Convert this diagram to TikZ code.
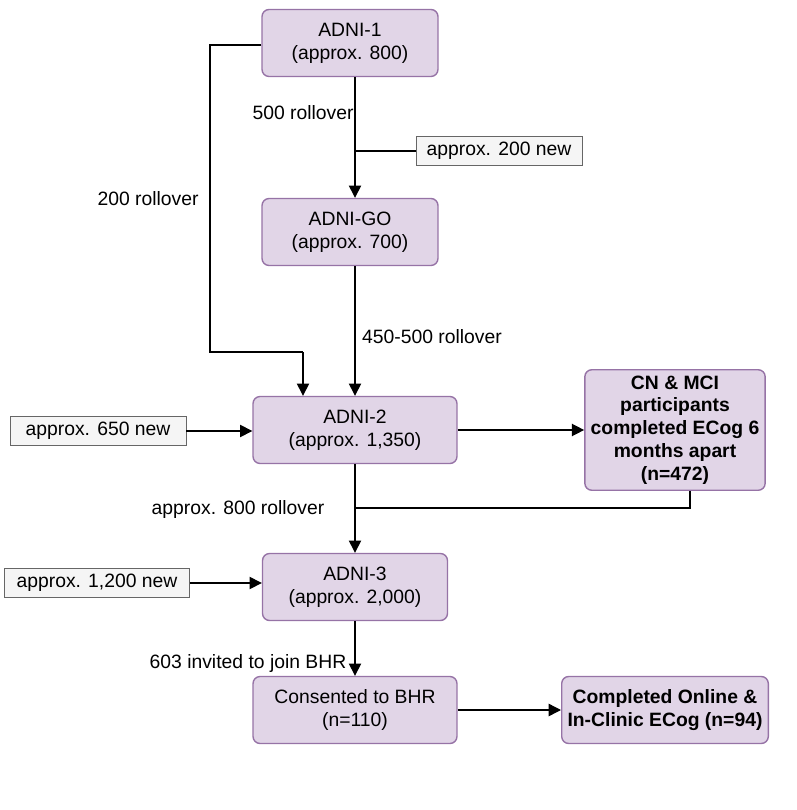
\documentclass[tikz,border=0pt]{standalone}
\usepackage{fontspec}
\setmainfont{Liberation Sans}
\usetikzlibrary{positioning,arrows.meta}
\definecolor{boxfill}{HTML}{E1D5E7}
\definecolor{boxline}{HTML}{9673A6}
\definecolor{newfill}{HTML}{F5F5F5}
\definecolor{newline}{HTML}{666666}
\begin{document}
\begin{tikzpicture}[x=0.02cm,y=-0.02cm,font=\fontsize{11}{13}\selectfont,
  stage/.style={draw=boxline,fill=boxfill,rounded corners=4pt,align=center,line width=0.8pt},
  newin/.style={draw=newline,fill=newfill,inner sep=0pt,minimum height=0.58cm},
  arr/.style={-{Triangle[length=7pt,width=7pt]},line width=0.8pt},
  ln/.style={line width=0.8pt}]
\useasboundingbox (0,0) rectangle (796,810);
%stages
\node[stage,minimum width=3.52cm,minimum height=1.34cm] (A1) at (350,43) {ADNI-1\\(approx. 800)};
\node[stage,minimum width=3.52cm,minimum height=1.34cm] (AGO) at (350,232) {ADNI-GO\\(approx. 700)};
\node[stage,minimum width=4.08cm,minimum height=1.34cm] (A2) at (355,430) {ADNI-2\\(approx. 1,350)};
\node[stage,minimum width=3.6cm,minimum height=2.4cm,font=\fontsize{11}{13}\selectfont\bfseries] (CN) at (675,430) {CN \& MCI\\participants\\completed ECog 6\\months apart\\(n=472)};
\node[stage,minimum width=3.7cm,minimum height=1.34cm] (A3) at (355,587) {ADNI-3\\(approx. 2,000)};
\node[stage,minimum width=4.08cm,minimum height=1.34cm] (BHR) at (355,710) {Consented to BHR\\(n=110)};
\node[stage,minimum width=3.9cm,minimum height=1.34cm,font=\fontsize{11}{13}\selectfont\bfseries] (ON) at (665,710) {Completed Online \&\\In-Clinic ECog (n=94)};
%new participants
\node[newin,minimum width=3.32cm] (N1) at (499,151) {approx. 200 new};
\node[newin,minimum width=3.52cm] (N2) at (98,431) {approx. 650 new};
\node[newin,minimum width=3.7cm] (N3) at (97,583) {approx. 1,200 new};
%helper points
\coordinate (c1) at (210,45);
\coordinate (c2) at (210,352);
\coordinate (c3) at (303,352);
\coordinate (j1) at (355,151);
\coordinate (j2) at (355,508);
\coordinate (c4) at (690,508);
%connectors
\draw[ln] (A1.west|-c1) -- (c1) -- (c2) -- (c3);
\draw[arr] (c3) -- (c3|-A2.north);
\draw[arr] (A1.south-|j1) -- (AGO.north-|j1);
\draw[ln] (N1.west) -- (j1);
\draw[arr] (AGO.south-|A2) -- (A2.north);
\draw[arr] (N2.east) -- (A2.west|-N2);
\draw[arr] (A2.east) -- (CN.west|-A2);
\draw[ln] (c4|-CN.south) -- (c4) -- (j2);
\draw[arr] (A2.south) -- (A3.north);
\draw[arr] (N3.east) -- (A3.west|-N3);
\draw[arr] (A3.south) -- (BHR.north);
\draw[arr] (BHR.east) -- (ON.west);
%labels
\node (l1) at (303,113) {500 rollover};
\node (l2) at (148,199) {200 rollover};
\node (l3) at (432,337) {450-500 rollover};
\node (l4) at (238,510) {approx. 800 rollover};
\node (l5) at (248,663) {603 invited to join BHR};
\end{tikzpicture}
\end{document}
